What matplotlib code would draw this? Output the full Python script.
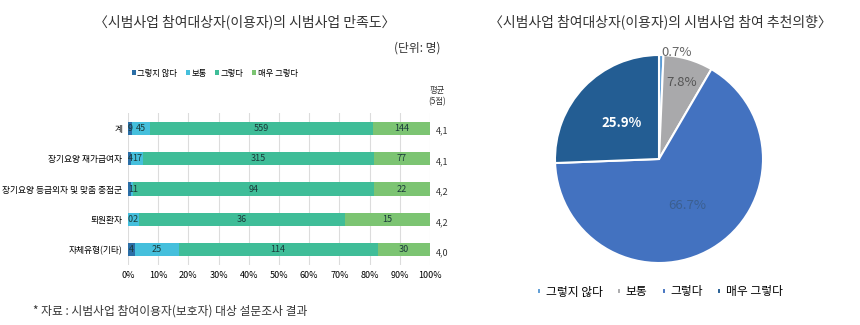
import numpy as np
import matplotlib.pyplot as plt

plt.rcParams['font.family'] = ['Noto Sans CJK KR', 'DejaVu Sans']

# 만족도 응답 (명)
groups = ['계', '장기요양 재가급여자', '장기요양 등급외자 및 맞춤 중점군', '퇴원환자', '자체유형(기타)']
levels = ['그렇지 않다', '보통', '그렇다', '매우 그렇다']
not_agree = [9, 4, 1, 0, 4]
neutral = [45, 17, 1, 2, 25]
agree = [559, 315, 94, 36, 114]
strongly = [144, 77, 22, 15, 30]
avg_score = ['4,1', '4,1', '4,2', '4,2', '4,0']
bar_colors = ['#2b6ea6', '#45bfdc', '#3fbd98', '#7cc472']

# 추천의향 (%)
pie_labels = ['그렇지 않다', '보통', '그렇다', '매우 그렇다']
pie_pct = [0.7, 7.8, 66.7, 25.9]
pie_colors = ['#5b9bd5', '#a9a9ab', '#4372c0', '#235d93']

fig = plt.figure(figsize=(8.6, 3.25), dpi=100)
W, H = 860, 325


def box(x0, y0, x1, y1):
    return [x0 / W, 1 - y1 / H, (x1 - x0) / W, (y1 - y0) / H]


# ---- 왼쪽: 100% 누적 막대 ----
ax = fig.add_axes(box(128, 113, 430, 265))
data = np.array([not_agree, neutral, agree, strongly], dtype=float)
share = data / data.sum(axis=0) * 100
ypos = np.arange(len(groups))
left = np.zeros(len(groups))
cursor = np.zeros(len(groups))  # 좁은 구간 라벨이 겹치지 않도록
digit_w = 1.5  # 숫자 한 글자 폭 (%)
for k in range(len(levels)):
    ax.barh(ypos, share[k], left=left, height=0.44, color=bar_colors[k],
            label=levels[k], zorder=2)
    for i in range(len(groups)):
        txt = str(int(data[k][i]))
        half = len(txt) * digit_w / 2
        cx = max(left[i] + share[k][i] / 2, cursor[i] + half)
        ax.text(cx, ypos[i], txt, ha='center', va='center', fontsize=6.5,
                color='#1a3a3a', zorder=3)
        cursor[i] = cx + half
    left += share[k]

ax.set_xlim(0, 100)
ax.set_ylim(len(groups) - 0.5, -0.5)
ax.set_xticks(np.arange(0, 101, 10))
ax.set_xticklabels([f'{t}%' for t in range(0, 101, 10)], fontsize=6.5)
ax.set_yticks(ypos)
ax.set_yticklabels(groups, fontsize=6.3)
ax.tick_params(length=0, pad=4)
ax.grid(axis='x', color='#dcdcdc', linewidth=0.8, zorder=0)
for s in ax.spines.values():
    s.set_visible(False)

for i, v in enumerate(avg_score):
    ax.text(1.02, ypos[i] + 0.1, v, transform=ax.get_yaxis_transform(),
            ha='left', va='center', fontsize=6.5, color='#333333')
fig.text(437 / W, 1 - 96 / H, '평균\n(5점)', ha='center', va='center',
         fontsize=6, color='#333333', linespacing=1.3)

ax.legend(loc='center left', bbox_to_anchor=(124 / W, 1 - 73 / H),
          bbox_transform=fig.transFigure, ncol=4, frameon=False, fontsize=6,
          handlelength=0.5, handleheight=0.5, handletextpad=0.2, columnspacing=1.0)

fig.text(245 / W, 1 - 22 / H, '〈시범사업 참여대상자(이용자)의 시범사업 만족도〉',
         ha='center', va='center', fontsize=10, color='#333333')
fig.text(440 / W, 1 - 48 / H, '(단위: 명)', ha='right', va='center',
         fontsize=8.5, color='#333333')
fig.text(33 / W, 1 - 311 / H, '* 자료 : 시범사업 참여이용자(보호자) 대상 설문조사 결과',
         ha='left', va='center', fontsize=8.5, color='#333333')

# ---- 오른쪽: 추천의향 파이 ----
pax = fig.add_axes(box(555, 55, 763, 263))
wedges, _ = pax.pie(pie_pct, colors=pie_colors, startangle=90, counterclock=False,
                    wedgeprops=dict(edgecolor='white', linewidth=1.5))
pax.set_xlim(-1, 1)
pax.set_ylim(-1, 1)
pax.set_aspect('equal')

label_r = [1.02, 0.77, 0.52, 0.5]
label_color = ['#666666', '#555555', '#3b5f90', 'white']
for w, p, r, c in zip(wedges, pie_pct, label_r, label_color):
    ang = np.deg2rad((w.theta1 + w.theta2) / 2)
    x, y = r * np.cos(ang), r * np.sin(ang)
    ha = 'left' if p < 1 else 'center'
    pax.text(x, y, f'{p}%', ha=ha, va='center', fontsize=9.5, color=c,
             fontweight='bold' if c == 'white' else 'normal', clip_on=False)

pax.legend(wedges, pie_labels, loc='center', bbox_to_anchor=(660 / W, 1 - 292 / H),
           bbox_transform=fig.transFigure, ncol=4, frameon=False, fontsize=8.5,
           handlelength=0.35, handleheight=0.35, handletextpad=0.4, columnspacing=1.2)

fig.text(660 / W, 1 - 22 / H, '〈시범사업 참여대상자(이용자)의 시범사업 참여 추천의향〉',
         ha='center', va='center', fontsize=10, color='#333333')

fig.savefig('out.png', dpi=100)
